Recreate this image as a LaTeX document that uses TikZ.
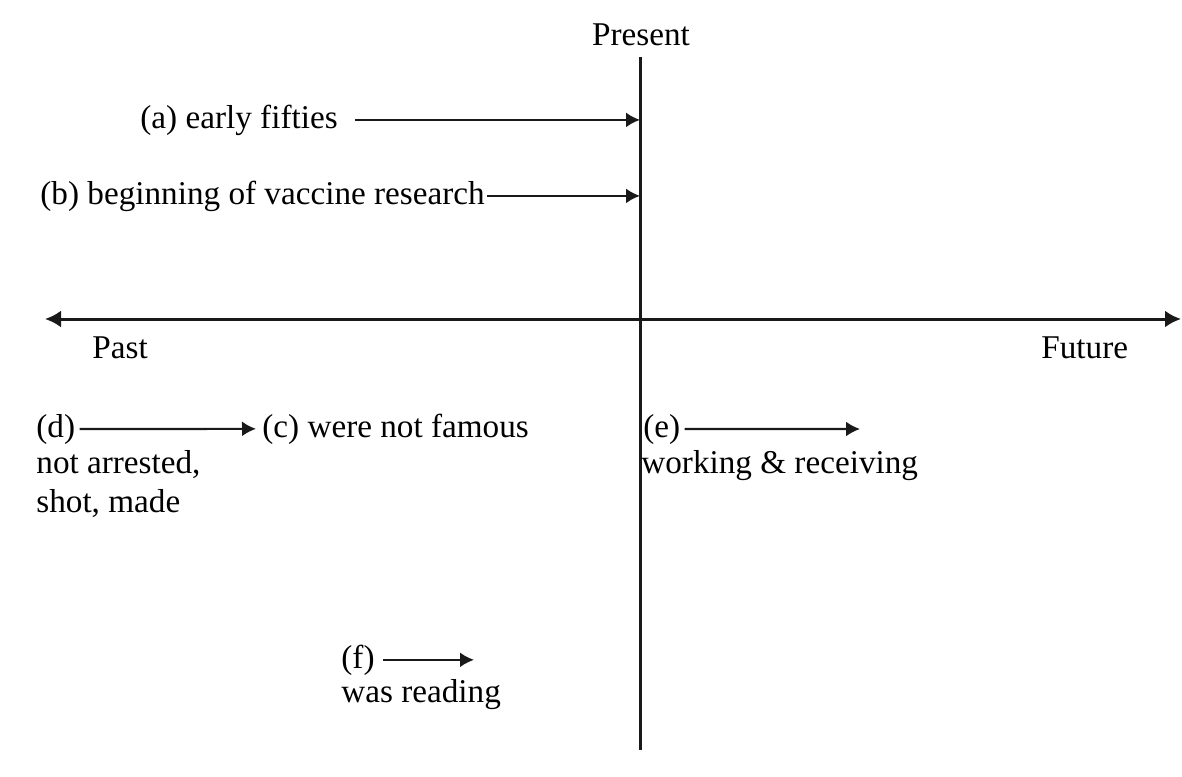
\documentclass[tikz,border=0pt]{standalone}
\usepackage{fontspec}
\setmainfont{Liberation Serif}
\usepackage{tikz}
\usetikzlibrary{arrows.meta,positioning,calc}

\begin{document}
\begin{tikzpicture}[
    x=0.5pt, y=-0.5pt,
    >={Latex[length=7pt,width=7.5pt]},
    axis/.style={
        line width=1.5pt, draw=black!90
    },
    pointer/.style={
        ->, line width=1.1pt, draw=black!90
    },
    tlabel/.style={
        inner sep=0pt, anchor=base west, align=left,
        font=\fontsize{16.6}{19.5}\selectfont
    }
]
\useasboundingbox (0,0) rectangle (1182,776);

% — Axes —
\coordinate (presTop) at (640,57);
\coordinate (presBot) at (640,750);
\coordinate (pastEnd) at (45,319);
\coordinate (futEnd)  at (1181,319);
\draw[axis] (presTop) -- (presBot);
\draw[axis, <->, >={Latex[length=8pt,width=8.5pt]}] (pastEnd) -- (futEnd);

\node[tlabel, anchor=base] (present) at (641,45) {Present};
\node[tlabel] (past)   at (92,358)   {Past};
\node[tlabel] (future) at (1041,358) {Future};

% — Labels above the time line —
\node[tlabel] (lblA) at (140,128) {(a) early fifties};
\node[tlabel] (lblB) at (40,204)  {(b) beginning of vaccine research};

\draw[pointer] ([xshift=8.5pt]lblA.east) -- (lblA.east -| presTop);
\draw[pointer] ([xshift=1pt]lblB.east)   -- (lblB.east -| presTop);

% — Labels below the time line —
\node[tlabel] (lblD) at (36,437)  {(d)};
\node[tlabel] (lblDtxt) at (36,512) {not arrested,\\shot, made};
\node[tlabel] (lblC) at (262,437) {(c) were not famous};
\draw[pointer] ([xshift=2pt]lblD.east) -- ([xshift=-3pt]lblC.west);

\node[tlabel] (lblE) at (643,437) {(e)};
\node[tlabel] (lblEtxt) at (641,473) {working \& receiving};
\coordinate (eEnd) at (860,429);
\draw[pointer] ([xshift=2pt]lblE.east) -- (eEnd);

\node[tlabel] (lblF) at (341,668) {(f)};
\node[tlabel] (lblFtxt) at (341,702) {was reading};
\coordinate (fEnd) at (474,655);
\draw[pointer] ([xshift=4pt]lblF.east) -- (lblF.east -| fEnd);

\end{tikzpicture}
\end{document}
